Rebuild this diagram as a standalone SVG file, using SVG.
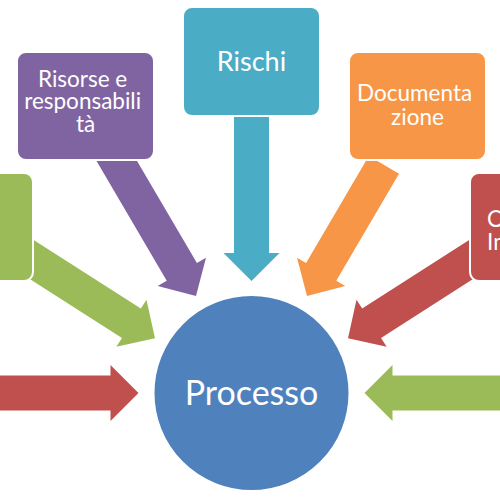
<svg xmlns="http://www.w3.org/2000/svg" width="500" height="500" viewBox="0 0 500 500">
  <style>
    .box { stroke: #ffffff; stroke-width: 2; }
    .lbl { fill: #ffffff; font-family: Lato, "Open Sans", "Liberation Sans", sans-serif; text-anchor: middle; }
    .blue { fill: #4F81BD; }
    .red { fill: #C0504D; }
    .green { fill: #9BBB59; }
    .purple { fill: #8064A2; }
    .aqua { fill: #4BACC6; }
    .orange { fill: #F79646; }
  </style>
  <defs>
    <polygon id="arrow200" points="0,0 -28,-28 -28,-17.5 -200,-17.5 -200,17.5 -28,17.5 -28,28"/>
    <polygon id="arrow152" points="0,0 -28,-28 -28,-17.5 -152,-17.5 -152,17.5 -28,17.5 -28,28"/>
  </defs>
  <rect width="500" height="500" fill="#ffffff"/>

  <g id="connectors">
    <use href="#arrow200" class="aqua" transform="translate(251.5,281) rotate(90)"/>
    <use href="#arrow200" class="purple" transform="translate(196,296) rotate(59.6)"/>
    <use href="#arrow152" class="orange" transform="translate(307,296) rotate(120.4)"/>
    <use href="#arrow200" class="green" transform="translate(155,338.3) rotate(32.6)"/>
    <use href="#arrow200" class="red" transform="translate(348,338.3) rotate(147.4)"/>
    <use href="#arrow200" class="red" transform="translate(138.5,393)"/>
    <use href="#arrow200" class="green" transform="translate(364.5,393) rotate(180)"/>
  </g>

  <g id="node-rischi">
    <rect class="box aqua" x="183" y="7" width="137" height="109" rx="9"/>
    <text class="lbl" x="251.5" y="71" font-size="27">Rischi</text>
  </g>

  <g id="node-risorse">
    <rect class="box purple" x="17" y="52" width="137" height="108" rx="9"/>
    <text class="lbl" font-size="22.5">
      <tspan x="85.5" y="86.5">Risorse e</tspan>
      <tspan x="85.5" y="109">responsabili</tspan>
      <tspan x="85.5" y="131.5">tà</tspan>
    </text>
  </g>

  <g id="node-documentazione">
    <rect class="box orange" x="349" y="52" width="137" height="108" rx="9"/>
    <text class="lbl" font-size="22.5">
      <tspan x="417.5" y="101">Documenta</tspan>
      <tspan x="417.5" y="124.5">zione</tspan>
    </text>
  </g>

  <g id="node-left">
    <rect class="box green" x="-104" y="173" width="137" height="108" rx="9"/>
  </g>

  <g id="node-right">
    <rect class="box red" x="470" y="173" width="137" height="108" rx="9"/>
    <text class="lbl" font-size="22.5" style="text-anchor:start">
      <tspan x="487" y="227">O</tspan>
      <tspan x="487" y="250">In</tspan>
    </text>
  </g>

  <g id="node-processo">
    <circle class="box blue" cx="251.5" cy="393" r="98"/>
    <text class="lbl" x="251.5" y="405" font-size="34">Processo</text>
  </g>
</svg>
